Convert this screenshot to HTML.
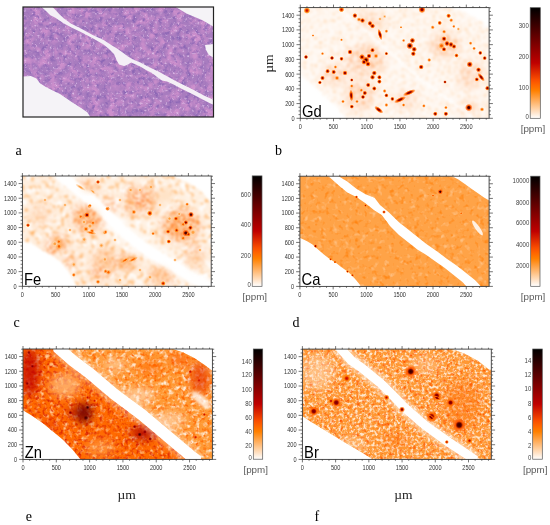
<!DOCTYPE html>
<html><head><meta charset="utf-8"><title>Figure</title>
<style>
html,body{margin:0;padding:0;background:#fff;}
body{width:550px;height:525px;overflow:hidden;}
svg{display:block;}
filter{color-interpolation-filters:sRGB;}
.tk{font-family:"Liberation Sans",sans-serif;font-size:6.9px;fill:#333;}
.cl{font-family:"Liberation Sans",sans-serif;font-size:6.4px;fill:#444;}
.ppm{font-family:"Liberation Sans",sans-serif;font-size:9.8px;fill:#5a5a5a;}
.el{font-family:"Liberation Sans",sans-serif;font-size:16.4px;fill:#000;}
.lt{font-family:"Liberation Serif",serif;font-size:14px;fill:#000;}
.um{font-family:"Liberation Serif",serif;font-size:13.5px;fill:#222;}
</style></head><body>
<svg width="550" height="525" viewBox="0 0 550 525">
<defs><linearGradient id="cb" x1="0" y1="0" x2="0" y2="1"><stop offset="0" stop-color="#000000"/><stop offset="0.05" stop-color="#130000"/><stop offset="0.1" stop-color="#260000"/><stop offset="0.15" stop-color="#390000"/><stop offset="0.2" stop-color="#4c0000"/><stop offset="0.25" stop-color="#600000"/><stop offset="0.3" stop-color="#730000"/><stop offset="0.35" stop-color="#860000"/><stop offset="0.4" stop-color="#990000"/><stop offset="0.45" stop-color="#ac0000"/><stop offset="0.5" stop-color="#bf0000"/><stop offset="0.55" stop-color="#d21a00"/><stop offset="0.6" stop-color="#e53300"/><stop offset="0.65" stop-color="#f94d00"/><stop offset="0.7" stop-color="#ff6600"/><stop offset="0.75" stop-color="#ff8000"/><stop offset="0.8" stop-color="#ff9933"/><stop offset="0.85" stop-color="#ffb266"/><stop offset="0.9" stop-color="#ffcc99"/><stop offset="0.95" stop-color="#ffe5cc"/><stop offset="1" stop-color="#ffffff"/></linearGradient>
<filter id="sblur" x="-10%" y="-10%" width="120%" height="120%"><feGaussianBlur stdDeviation="0.45"/></filter>
<radialGradient id="hz"><stop offset="0" stop-color="#ffa050" stop-opacity="0.45"/><stop offset="1" stop-color="#ffa050" stop-opacity="0"/></radialGradient>
<radialGradient id="g_vd"><stop offset="0" stop-color="#2e0000"/><stop offset="0.3" stop-color="#600000"/><stop offset="0.55" stop-color="#ff5700"/><stop offset="0.8" stop-color="#ff5700" stop-opacity="0.5"/><stop offset="1" stop-color="#ff5700" stop-opacity="0"/></radialGradient>
<radialGradient id="g_d"><stop offset="0" stop-color="#730000"/><stop offset="0.3" stop-color="#9b0000"/><stop offset="0.55" stop-color="#ff6600"/><stop offset="0.8" stop-color="#ff6600" stop-opacity="0.5"/><stop offset="1" stop-color="#ff6600" stop-opacity="0"/></radialGradient>
<radialGradient id="g_od"><stop offset="0" stop-color="#bf0000"/><stop offset="0.3" stop-color="#dc2600"/><stop offset="0.55" stop-color="#ff850a"/><stop offset="0.8" stop-color="#ff850a" stop-opacity="0.5"/><stop offset="1" stop-color="#ff850a" stop-opacity="0"/></radialGradient>
<radialGradient id="g_o"><stop offset="0" stop-color="#fc5200"/><stop offset="0.3" stop-color="#ff6c00"/><stop offset="0.55" stop-color="#ffad5c"/><stop offset="0.8" stop-color="#ffad5c" stop-opacity="0.5"/><stop offset="1" stop-color="#ffad5c" stop-opacity="0"/></radialGradient>
<radialGradient id="g_lo"><stop offset="0" stop-color="#ff9933"/><stop offset="0.3" stop-color="#ffa852"/><stop offset="0.55" stop-color="#ffd1a3"/><stop offset="0.8" stop-color="#ffd1a3" stop-opacity="0.5"/><stop offset="1" stop-color="#ffd1a3" stop-opacity="0"/></radialGradient>
<radialGradient id="n_vd"><stop offset="0" stop-color="#2e0000"/><stop offset="0.45" stop-color="#600000" stop-opacity="0.85"/><stop offset="1" stop-color="#820000" stop-opacity="0"/></radialGradient>
<radialGradient id="n_d"><stop offset="0" stop-color="#730000"/><stop offset="0.45" stop-color="#9b0000" stop-opacity="0.85"/><stop offset="1" stop-color="#b60000" stop-opacity="0"/></radialGradient>
<radialGradient id="n_od"><stop offset="0" stop-color="#bf0000"/><stop offset="0.45" stop-color="#dc2600" stop-opacity="0.85"/><stop offset="1" stop-color="#ef4000" stop-opacity="0"/></radialGradient>
<radialGradient id="n_o"><stop offset="0" stop-color="#fc5200"/><stop offset="0.45" stop-color="#ff6c00" stop-opacity="0.85"/><stop offset="1" stop-color="#ff7d00" stop-opacity="0"/></radialGradient>
<radialGradient id="n_lo"><stop offset="0" stop-color="#ff9933"/><stop offset="0.45" stop-color="#ffa852" stop-opacity="0.85"/><stop offset="1" stop-color="#ffb266" stop-opacity="0"/></radialGradient>
<filter id="b15" x="-50%" y="-50%" width="200%" height="200%"><feGaussianBlur stdDeviation="1.5"/></filter>
<filter id="hblur" x="-60%" y="-60%" width="220%" height="220%"><feGaussianBlur stdDeviation="3"/></filter>
<clipPath id="clip_b"><rect x="300.3" y="7.6" width="188.8" height="110.7"/></clipPath>
<clipPath id="tis_b"><polygon points="297.2,75.6 300.2,75.6 308.2,80.6 316.2,87.6 324.2,95.6 332.2,102.6 340.2,110.6 346.2,117.9 346.2,123.9 473.56,123.9 473.56,119.37 467.61,114.41 447.62,100.42 423.59,83.39 403.54,66.35 389.53,53.35 365.54,32.35 335.55,6.36 335.55,4.6 297.2,4.6"/><polygon points="336.85,4.6 336.85,4.84 366.86,30.85 390.87,51.85 404.86,64.85 424.81,81.81 448.78,98.78 468.79,112.79 474.84,117.83 474.84,123.9 495.2,123.9 495.2,28.6 489.2,28.6 478.2,19.6 465.2,12.6 451.2,7.6 451.2,4.6"/></clipPath>
<clipPath id="tl_b"><polygon points="297.2,75.6 300.2,75.6 308.2,80.6 316.2,87.6 324.2,95.6 332.2,102.6 340.2,110.6 346.2,117.9 346.2,123.9 473.56,123.9 473.56,119.37 467.61,114.41 447.62,100.42 423.59,83.39 403.54,66.35 389.53,53.35 365.54,32.35 335.55,6.36 335.55,4.6 297.2,4.6"/></clipPath>
<clipPath id="tu_b"><polygon points="336.85,4.6 336.85,4.84 366.86,30.85 390.87,51.85 404.86,64.85 424.81,81.81 448.78,98.78 468.79,112.79 474.84,117.83 474.84,123.9 495.2,123.9 495.2,28.6 489.2,28.6 478.2,19.6 465.2,12.6 451.2,7.6 451.2,4.6"/></clipPath>
<filter id="pb_b" x="292.2" y="-0.4" width="205" height="126.3" filterUnits="userSpaceOnUse"><feGaussianBlur stdDeviation="1.5"/></filter>
<filter id="tx_bl0" x="296.2" y="3.6" width="197" height="118.3" filterUnits="userSpaceOnUse"><feTurbulence type="fractalNoise" baseFrequency="0.45" numOctaves="2" seed="21"/><feColorMatrix type="matrix" values="0 0 0 0 1.000  0 0 0 0 0.678  0 0 0 0 0.361  4.2 0 0 0 -2.45"/><feGaussianBlur stdDeviation="0.25"/></filter>
<filter id="tx_bu0" x="296.2" y="3.6" width="197" height="118.3" filterUnits="userSpaceOnUse"><feTurbulence type="fractalNoise" baseFrequency="0.45" numOctaves="2" seed="23"/><feColorMatrix type="matrix" values="0 0 0 0 1.000  0 0 0 0 0.678  0 0 0 0 0.361  4.2 0 0 0 -2.45"/><feGaussianBlur stdDeviation="0.25"/></filter>
<mask id="mk_b" maskUnits="userSpaceOnUse" x="290.2" y="-2.4" width="209" height="130.3"><g filter="url(#rblur)"><ellipse cx="365" cy="60" rx="20" ry="15" fill="#fff" opacity="0.8"/><ellipse cx="445" cy="45" rx="15" ry="12" fill="#fff" opacity="0.8"/><ellipse cx="370" cy="20" rx="14" ry="8" fill="#fff" opacity="0.6"/><ellipse cx="360" cy="95" rx="15" ry="15" fill="#fff" opacity="0.7"/><ellipse cx="470" cy="75" rx="12" ry="14" fill="#fff" opacity="0.6"/><ellipse cx="405" cy="100" rx="12" ry="8" fill="#fff" opacity="0.6"/><ellipse cx="335" cy="75" rx="12" ry="10" fill="#fff" opacity="0.7"/><ellipse cx="470" cy="108" rx="12" ry="6" fill="#fff" opacity="0.5"/></g></mask>
<filter id="cl_b" x="296.2" y="3.6" width="197" height="118.3" filterUnits="userSpaceOnUse"><feTurbulence type="fractalNoise" baseFrequency="0.5" numOctaves="2" seed="32"/><feColorMatrix type="matrix" values="0 0 0 0 1.000  0 0 0 0 0.400  0 0 0 0 0.000  5.0 0 0 0 -2.4"/><feGaussianBlur stdDeviation="0.35"/></filter>
<clipPath id="clip_c"><rect x="22.4" y="176" width="188.8" height="110.3"/></clipPath>
<clipPath id="tis_c"><polygon points="19.4,240.4 22.4,240.4 32.4,243.8 42.7,250.7 53,256 61.7,262.8 68.6,271.5 73.8,280 77.3,286.4 77.3,292.4 211.75,292.4 211.75,294.92 201.66,289.37 188.93,281.79 174.56,272.81 159.6,264.14 141.21,253.08 120.72,236.39 105.01,220.59 81.33,198.99 55.47,178.4 55.47,173.1 19.4,173.1"/><polygon points="62.33,173.1 62.33,169.8 88.47,190.61 112.59,212.61 128.08,228.21 147.59,244.12 165.2,254.66 180.24,263.39 194.67,272.41 207.14,279.83 217.05,285.28 217.05,292.4 217.4,292.4 217.4,202.5 211.4,202.5 208.5,199 199.7,190 189,183 173.2,176.1 173.2,173.1"/></clipPath>
<clipPath id="tl_c"><polygon points="19.4,240.4 22.4,240.4 32.4,243.8 42.7,250.7 53,256 61.7,262.8 68.6,271.5 73.8,280 77.3,286.4 77.3,292.4 211.75,292.4 211.75,294.92 201.66,289.37 188.93,281.79 174.56,272.81 159.6,264.14 141.21,253.08 120.72,236.39 105.01,220.59 81.33,198.99 55.47,178.4 55.47,173.1 19.4,173.1"/></clipPath>
<clipPath id="tu_c"><polygon points="62.33,173.1 62.33,169.8 88.47,190.61 112.59,212.61 128.08,228.21 147.59,244.12 165.2,254.66 180.24,263.39 194.67,272.41 207.14,279.83 217.05,285.28 217.05,292.4 217.4,292.4 217.4,202.5 211.4,202.5 208.5,199 199.7,190 189,183 173.2,176.1 173.2,173.1"/></clipPath>
<filter id="pb_c" x="14.4" y="168.1" width="205" height="126.3" filterUnits="userSpaceOnUse"><feGaussianBlur stdDeviation="1.3"/></filter>
<filter id="tx_cl0" x="18.4" y="172.1" width="197" height="118.3" filterUnits="userSpaceOnUse"><feTurbulence type="fractalNoise" baseFrequency="0.15" numOctaves="2" seed="11"/><feColorMatrix type="matrix" values="0 0 0 0 1.000  0 0 0 0 1.000  0 0 0 0 1.000  3.2 0 0 0 -1.5"/><feGaussianBlur stdDeviation="0.4"/></filter>
<filter id="tx_cl1" x="18.4" y="172.1" width="197" height="118.3" filterUnits="userSpaceOnUse"><feTurbulence type="fractalNoise" baseFrequency="0.2" numOctaves="2" seed="5"/><feColorMatrix type="matrix" values="0 0 0 0 1.000  0 0 0 0 0.600  0 0 0 0 0.200  2.6 0 0 0 -1.4"/><feGaussianBlur stdDeviation="0.4"/></filter>
<filter id="tx_cu0" x="18.4" y="172.1" width="197" height="118.3" filterUnits="userSpaceOnUse"><feTurbulence type="fractalNoise" baseFrequency="0.15" numOctaves="2" seed="12"/><feColorMatrix type="matrix" values="0 0 0 0 1.000  0 0 0 0 1.000  0 0 0 0 1.000  3.2 0 0 0 -1.5"/><feGaussianBlur stdDeviation="0.4"/></filter>
<filter id="tx_cu1" x="18.4" y="172.1" width="197" height="118.3" filterUnits="userSpaceOnUse"><feTurbulence type="fractalNoise" baseFrequency="0.2" numOctaves="2" seed="6"/><feColorMatrix type="matrix" values="0 0 0 0 1.000  0 0 0 0 0.600  0 0 0 0 0.200  2.6 0 0 0 -1.4"/><feGaussianBlur stdDeviation="0.4"/></filter>
<filter id="hl_c" x="-20%" y="-20%" width="140%" height="140%"><feGaussianBlur stdDeviation="2.2"/></filter>
<mask id="mk_c" maskUnits="userSpaceOnUse" x="12.4" y="166.1" width="209" height="130.3"><g filter="url(#rblur)"><ellipse cx="88" cy="218" rx="14" ry="12" fill="#fff" opacity="1"/><ellipse cx="181" cy="226" rx="18" ry="15" fill="#fff" opacity="1"/><ellipse cx="131" cy="200" rx="4" ry="16" fill="#fff" opacity="0.8"/><ellipse cx="150.5" cy="200" rx="4" ry="14" fill="#fff" opacity="0.8"/><ellipse cx="126" cy="262" rx="11" ry="5" fill="#fff" opacity="0.9"/><ellipse cx="58" cy="243" rx="8" ry="7" fill="#fff" opacity="0.9"/><ellipse cx="104" cy="262" rx="10" ry="12" fill="#fff" opacity="0.6"/><ellipse cx="160" cy="275" rx="10" ry="8" fill="#fff" opacity="0.6"/><ellipse cx="88" cy="187" rx="11" ry="5" fill="#fff" opacity="0.7"/><ellipse cx="40" cy="215" rx="8" ry="8" fill="#fff" opacity="0.4"/><ellipse cx="195" cy="255" rx="8" ry="12" fill="#fff" opacity="0.5"/><ellipse cx="110" cy="205" rx="8" ry="8" fill="#fff" opacity="0.5"/><ellipse cx="100" cy="273" rx="9" ry="5" fill="#fff" opacity="0.8"/><ellipse cx="142" cy="200" rx="10" ry="12" fill="#fff" opacity="0.7"/><ellipse cx="70" cy="262" rx="6" ry="6" fill="#fff" opacity="0.6"/><ellipse cx="165" cy="280" rx="8" ry="5" fill="#fff" opacity="0.6"/><ellipse cx="50" cy="250" rx="6" ry="6" fill="#fff" opacity="0.6"/></g></mask>
<filter id="cl_c" x="18.4" y="172.1" width="197" height="118.3" filterUnits="userSpaceOnUse"><feTurbulence type="fractalNoise" baseFrequency="0.42" numOctaves="2" seed="31"/><feColorMatrix type="matrix" values="0 0 0 0 1.000  0 0 0 0 0.361  0 0 0 0 0.000  5.0 0 0 0 -2.2"/><feGaussianBlur stdDeviation="0.35"/></filter>
<clipPath id="clip_d"><rect x="299.9" y="176.2" width="189.2" height="110.2"/></clipPath>
<clipPath id="tis_d"><polygon points="297.2,238.1 300.2,238.1 306.7,241.1 312.5,244.6 318.4,249.7 324.2,254.8 330,259.2 335.8,262.8 341.6,267.2 347.5,271.5 351.8,275.2 356.2,280.3 360.5,285.4 361.2,286.4 361.2,292.4 466.4,292.4 466.4,286.4 462.7,282.3 453.6,275 444.5,267.7 435.5,261.4 426.4,255 417.3,249.5 408.2,242.3 399,235 390,225.9 381.8,215 374.5,210.5 365.5,203.3 356.4,196.9 347.3,192.4 338.2,185.1 328.2,176.1 328.2,173.1 297.2,173.1"/><polygon points="338.2,173.1 338.2,176.1 347.3,181.5 356.4,188.7 365.5,194.2 374.5,197.8 380,205 389,212.4 399,222.3 408.2,229.5 417.3,236.8 426.4,244 437.3,251.4 446.4,258.6 457.3,266 466.4,273.2 475.5,280.5 481,286.4 481,292.4 495.2,292.4 495.2,200.6 489.2,200.6 484,197.6 477.6,193 471,188.4 464.5,183.8 458,179.2 451.4,176.1 451.4,173.1"/></clipPath>
<clipPath id="tl_d"><polygon points="297.2,238.1 300.2,238.1 306.7,241.1 312.5,244.6 318.4,249.7 324.2,254.8 330,259.2 335.8,262.8 341.6,267.2 347.5,271.5 351.8,275.2 356.2,280.3 360.5,285.4 361.2,286.4 361.2,292.4 466.4,292.4 466.4,286.4 462.7,282.3 453.6,275 444.5,267.7 435.5,261.4 426.4,255 417.3,249.5 408.2,242.3 399,235 390,225.9 381.8,215 374.5,210.5 365.5,203.3 356.4,196.9 347.3,192.4 338.2,185.1 328.2,176.1 328.2,173.1 297.2,173.1"/></clipPath>
<clipPath id="tu_d"><polygon points="338.2,173.1 338.2,176.1 347.3,181.5 356.4,188.7 365.5,194.2 374.5,197.8 380,205 389,212.4 399,222.3 408.2,229.5 417.3,236.8 426.4,244 437.3,251.4 446.4,258.6 457.3,266 466.4,273.2 475.5,280.5 481,286.4 481,292.4 495.2,292.4 495.2,200.6 489.2,200.6 484,197.6 477.6,193 471,188.4 464.5,183.8 458,179.2 451.4,176.1 451.4,173.1"/></clipPath>
<filter id="pb_d" x="292.2" y="168.1" width="205" height="126.3" filterUnits="userSpaceOnUse"><feGaussianBlur stdDeviation="0.5"/></filter>
<filter id="tx_dl0" x="296.2" y="172.1" width="197" height="118.3" filterUnits="userSpaceOnUse"><feTurbulence type="fractalNoise" baseFrequency="0.18" numOctaves="2" seed="12"/><feColorMatrix type="matrix" values="0 0 0 0 1.000  0 0 0 0 0.800  0 0 0 0 0.600  2.4 0 0 0 -1.35"/><feGaussianBlur stdDeviation="0.5"/></filter>
<filter id="tx_dl1" x="296.2" y="172.1" width="197" height="118.3" filterUnits="userSpaceOnUse"><feTurbulence type="fractalNoise" baseFrequency="0.2" numOctaves="2" seed="6"/><feColorMatrix type="matrix" values="0 0 0 0 1.000  0 0 0 0 0.478  0 0 0 0 0.000  2.4 0 0 0 -1.35"/><feGaussianBlur stdDeviation="0.4"/></filter>
<filter id="tx_du0" x="296.2" y="172.1" width="197" height="118.3" filterUnits="userSpaceOnUse"><feTurbulence type="fractalNoise" baseFrequency="0.18" numOctaves="2" seed="13"/><feColorMatrix type="matrix" values="0 0 0 0 1.000  0 0 0 0 0.800  0 0 0 0 0.600  2.4 0 0 0 -1.35"/><feGaussianBlur stdDeviation="0.5"/></filter>
<filter id="tx_du1" x="296.2" y="172.1" width="197" height="118.3" filterUnits="userSpaceOnUse"><feTurbulence type="fractalNoise" baseFrequency="0.2" numOctaves="2" seed="7"/><feColorMatrix type="matrix" values="0 0 0 0 1.000  0 0 0 0 0.478  0 0 0 0 0.000  2.4 0 0 0 -1.35"/><feGaussianBlur stdDeviation="0.4"/></filter>
<clipPath id="clip_e"><rect x="23" y="349" width="189.4" height="110.4"/></clipPath>
<clipPath id="tis_e"><polygon points="19.6,410 22.6,410 32.4,416 42.7,423 53,431.6 63.5,440.3 72,449 79,457.5 80.6,459.3 80.6,465.3 194.17,465.3 194.17,465.68 187.91,461.08 163.16,440.14 138.51,419.45 110.5,398.55 85.96,377.81 68.95,365.01 53.29,351.37 53.29,346 19.6,346"/><polygon points="60.91,346 60.91,342.63 76.25,355.99 93.24,368.79 117.7,389.45 145.69,410.35 170.64,431.26 195.29,452.12 201.03,456.32 201.03,465.3 217.6,465.3 217.6,370.5 211.6,370.5 211.2,370 204.3,364.7 193.8,357.7 183.3,352.5 172.8,349 172.8,346"/></clipPath>
<clipPath id="tl_e"><polygon points="19.6,410 22.6,410 32.4,416 42.7,423 53,431.6 63.5,440.3 72,449 79,457.5 80.6,459.3 80.6,465.3 194.17,465.3 194.17,465.68 187.91,461.08 163.16,440.14 138.51,419.45 110.5,398.55 85.96,377.81 68.95,365.01 53.29,351.37 53.29,346 19.6,346"/></clipPath>
<clipPath id="tu_e"><polygon points="60.91,346 60.91,342.63 76.25,355.99 93.24,368.79 117.7,389.45 145.69,410.35 170.64,431.26 195.29,452.12 201.03,456.32 201.03,465.3 217.6,465.3 217.6,370.5 211.6,370.5 211.2,370 204.3,364.7 193.8,357.7 183.3,352.5 172.8,349 172.8,346"/></clipPath>
<filter id="pb_e" x="14.6" y="341" width="205" height="126.3" filterUnits="userSpaceOnUse"><feGaussianBlur stdDeviation="0.6"/></filter>
<filter id="tx_el0" x="18.6" y="345" width="197" height="118.3" filterUnits="userSpaceOnUse"><feTurbulence type="fractalNoise" baseFrequency="0.22" numOctaves="2" seed="13"/><feColorMatrix type="matrix" values="0 0 0 0 1.000  0 0 0 0 0.800  0 0 0 0 0.600  3.0 0 0 0 -1.5"/><feGaussianBlur stdDeviation="0.5"/></filter>
<filter id="tx_el1" x="18.6" y="345" width="197" height="118.3" filterUnits="userSpaceOnUse"><feTurbulence type="fractalNoise" baseFrequency="0.28" numOctaves="2" seed="7"/><feColorMatrix type="matrix" values="0 0 0 0 0.871  0 0 0 0 0.161  0 0 0 0 0.000  3.2 0 0 0 -1.55"/><feGaussianBlur stdDeviation="0.5"/></filter>
<filter id="tx_eu0" x="18.6" y="345" width="197" height="118.3" filterUnits="userSpaceOnUse"><feTurbulence type="fractalNoise" baseFrequency="0.22" numOctaves="2" seed="14"/><feColorMatrix type="matrix" values="0 0 0 0 1.000  0 0 0 0 0.922  0 0 0 0 0.839  3.2 0 0 0 -1.5"/><feGaussianBlur stdDeviation="0.5"/></filter>
<filter id="tx_eu1" x="18.6" y="345" width="197" height="118.3" filterUnits="userSpaceOnUse"><feTurbulence type="fractalNoise" baseFrequency="0.28" numOctaves="2" seed="8"/><feColorMatrix type="matrix" values="0 0 0 0 1.000  0 0 0 0 0.400  0 0 0 0 0.000  3.2 0 0 0 -1.6"/><feGaussianBlur stdDeviation="0.5"/></filter>
<filter id="hl_e" x="-20%" y="-20%" width="140%" height="140%"><feGaussianBlur stdDeviation="2.0"/></filter>
<clipPath id="clip_f"><rect x="302.4" y="349.1" width="188.9" height="110.3"/></clipPath>
<clipPath id="tis_f"><polygon points="297.2,414.7 300.2,414.7 313.8,423.4 327.7,432 345,442.4 362.3,452.8 372.6,459.3 372.6,465.3 472.56,465.3 472.56,463.77 466.95,459.83 446.19,446.19 421.76,428.62 400.68,410.38 392.19,401.29 384.06,393.16 377.64,386.83 369.68,380.35 359.9,372.25 348.19,363.89 335.77,350.07 335.77,346 297.2,346"/><polygon points="342.63,346 342.63,343.93 354.41,357.11 365.5,364.95 375.52,373.25 383.76,379.97 390.54,386.64 398.81,394.91 406.92,403.62 427.44,421.38 451.41,438.61 472.05,452.17 477.84,456.23 477.84,465.3 495.2,465.3 495.2,369.8 489.2,369.8 478.2,361 465.2,354 452,349 452,346"/></clipPath>
<clipPath id="tl_f"><polygon points="297.2,414.7 300.2,414.7 313.8,423.4 327.7,432 345,442.4 362.3,452.8 372.6,459.3 372.6,465.3 472.56,465.3 472.56,463.77 466.95,459.83 446.19,446.19 421.76,428.62 400.68,410.38 392.19,401.29 384.06,393.16 377.64,386.83 369.68,380.35 359.9,372.25 348.19,363.89 335.77,350.07 335.77,346 297.2,346"/></clipPath>
<clipPath id="tu_f"><polygon points="342.63,346 342.63,343.93 354.41,357.11 365.5,364.95 375.52,373.25 383.76,379.97 390.54,386.64 398.81,394.91 406.92,403.62 427.44,421.38 451.41,438.61 472.05,452.17 477.84,456.23 477.84,465.3 495.2,465.3 495.2,369.8 489.2,369.8 478.2,361 465.2,354 452,349 452,346"/></clipPath>
<filter id="pb_f" x="292.2" y="341" width="205" height="126.3" filterUnits="userSpaceOnUse"><feGaussianBlur stdDeviation="0.6"/></filter>
<filter id="tx_fl0" x="296.2" y="345" width="197" height="118.3" filterUnits="userSpaceOnUse"><feTurbulence type="fractalNoise" baseFrequency="0.36" numOctaves="2" seed="14"/><feColorMatrix type="matrix" values="0 0 0 0 1.000  0 0 0 0 0.900  0 0 0 0 0.800  3.4 0 0 0 -1.45"/><feGaussianBlur stdDeviation="0.35"/></filter>
<filter id="tx_fl1" x="296.2" y="345" width="197" height="118.3" filterUnits="userSpaceOnUse"><feTurbulence type="fractalNoise" baseFrequency="0.3" numOctaves="2" seed="8"/><feColorMatrix type="matrix" values="0 0 0 0 1.000  0 0 0 0 0.341  0 0 0 0 0.000  3.0 0 0 0 -1.6"/><feGaussianBlur stdDeviation="0.35"/></filter>
<filter id="tx_fu0" x="296.2" y="345" width="197" height="118.3" filterUnits="userSpaceOnUse"><feTurbulence type="fractalNoise" baseFrequency="0.36" numOctaves="2" seed="15"/><feColorMatrix type="matrix" values="0 0 0 0 1.000  0 0 0 0 0.900  0 0 0 0 0.800  3.4 0 0 0 -1.45"/><feGaussianBlur stdDeviation="0.35"/></filter>
<filter id="tx_fu1" x="296.2" y="345" width="197" height="118.3" filterUnits="userSpaceOnUse"><feTurbulence type="fractalNoise" baseFrequency="0.3" numOctaves="2" seed="9"/><feColorMatrix type="matrix" values="0 0 0 0 1.000  0 0 0 0 0.341  0 0 0 0 0.000  3.0 0 0 0 -1.6"/><feGaussianBlur stdDeviation="0.35"/></filter>
<filter id="hl_f" x="-20%" y="-20%" width="140%" height="140%"><feGaussianBlur stdDeviation="1.8"/></filter>
<filter id="rblur" x="-50%" y="-50%" width="200%" height="200%"><feGaussianBlur stdDeviation="4"/></filter>
<clipPath id="clip_a"><rect x="23" y="7" width="190.5" height="110"/></clipPath>
<filter id="ta1" x="23" y="7" width="191" height="110" filterUnits="userSpaceOnUse"><feTurbulence type="fractalNoise" baseFrequency="0.22" numOctaves="3" seed="7"/><feColorMatrix type="matrix" values="0 0 0 0 0.52  0 0 0 0 0.38  0 0 0 0 0.70  2.6 0 0 0 -1.3"/></filter><filter id="ta2" x="23" y="7" width="191" height="110" filterUnits="userSpaceOnUse"><feTurbulence type="fractalNoise" baseFrequency="0.4" numOctaves="2" seed="21"/><feColorMatrix type="matrix" values="0 0 0 0 0.9  0 0 0 0 0.8  0 0 0 0 0.94  0 3 0 0 -1.8"/><feGaussianBlur stdDeviation="0.35"/></filter><filter id="ta3" x="23" y="7" width="191" height="110" filterUnits="userSpaceOnUse"><feTurbulence type="fractalNoise" baseFrequency="0.12" numOctaves="2" seed="3"/><feColorMatrix type="matrix" values="0 0 0 0 0.8  0 0 0 0 0.56  0 0 0 0 0.8  0 0 3.0 0 -1.15"/></filter></defs>
<rect width="550" height="525" fill="#fff"/>

<g clip-path="url(#clip_a)">
<rect x="23" y="7" width="190.5" height="110" fill="#a87cbf"/>
<rect x="23" y="7" width="190.5" height="110" filter="url(#ta3)"/>
<rect x="23" y="7" width="190.5" height="110" filter="url(#ta1)"/>
<rect x="23" y="7" width="190.5" height="110" filter="url(#ta2)"/>
<polygon points="52,6.5 55,9.5 59.4,14.3 64,18.5 70.9,23.4 81.8,29 92.7,35 103.6,40 112,45.5 117,48.5 122,52 128,56.5 133,59.5 140.3,62.5 149.4,67.3 158.5,71.5 167.5,76.5 176.6,81.5 185.7,86 194.8,90.5 203.9,95.5 214,100 214,105 209.4,103 200.3,98.3 191.2,93.5 182,89 173,84.2 167,81.5 162,80.5 157,77 152,73 146,70 140.3,66.5 131.2,62.5 128,64.5 124,66 119,64.5 116.5,60 114,54 108.5,48.5 103.6,44.4 92.7,38.2 81.8,32.6 70.9,27.2 64,23.5 59.4,20.6 55,17.5 50.3,15.2 46,11 41,6.5" fill="#f4eff6"/>
<polygon points="23,76.5 30.9,75.9 36.4,78.6 40,83.2 45.5,86.8 52.7,90.5 60,94 65.5,97.7 70.9,101.4 76.4,105 81.8,108.6 87.3,112.3 91,118 23,118" fill="#f5f3f7"/>
<polygon points="174,6 187,13.8 202.5,20.3 214,27 214,6" fill="#f5f3f7"/>
<polygon points="205,45 214,44 214,58 209,55 206,50" fill="#f5f3f7"/>
</g>
<rect x="23" y="7" width="190.5" height="110" fill="none" stroke="#222" stroke-width="1.2"/>
<g clip-path="url(#clip_b)">
<rect x="300.3" y="7.6" width="188.8" height="110.7" fill="#fff"/>
<g filter="url(#pb_b)">
<polygon points="297.2,75.6 300.2,75.6 308.2,80.6 316.2,87.6 324.2,95.6 332.2,102.6 340.2,110.6 346.2,117.9 346.2,123.9 473.56,123.9 473.56,119.37 467.61,114.41 447.62,100.42 423.59,83.39 403.54,66.35 389.53,53.35 365.54,32.35 335.55,6.36 335.55,4.6 297.2,4.6" fill="#fffaf6"/>
<polygon points="336.85,4.6 336.85,4.84 366.86,30.85 390.87,51.85 404.86,64.85 424.81,81.81 448.78,98.78 468.79,112.79 474.84,117.83 474.84,123.9 495.2,123.9 495.2,28.6 489.2,28.6 478.2,19.6 465.2,12.6 451.2,7.6 451.2,4.6" fill="#fffaf6"/>
<rect x="296.2" y="3.6" width="197" height="118.3" filter="url(#tx_bl0)" clip-path="url(#tl_b)"/>
<rect x="296.2" y="3.6" width="197" height="118.3" filter="url(#tx_bu0)" clip-path="url(#tu_b)"/>
<g mask="url(#mk_b)"><rect x="296.2" y="3.6" width="197" height="118.3" filter="url(#cl_b)" clip-path="url(#tis_b)"/></g>
</g>
<g filter="url(#sblur)"><circle cx="306.9" cy="10.5" r="3.37" fill="url(#g_od)"/><circle cx="341.5" cy="9.6" r="2.81" fill="url(#g_od)"/><circle cx="354.9" cy="15.6" r="2.57" fill="url(#g_d)"/><circle cx="359" cy="19.5" r="2.24" fill="url(#g_o)"/><circle cx="362.5" cy="20.5" r="2.57" fill="url(#g_d)"/><circle cx="370" cy="23.4" r="2.57" fill="url(#g_d)"/><circle cx="372.5" cy="26" r="2.57" fill="url(#g_d)"/><ellipse cx="0" cy="0" rx="5.94" ry="2.02" fill="url(#g_d)" transform="translate(380,34.5) rotate(74.05)"/><circle cx="386.4" cy="31.2" r="1.87" fill="url(#g_o)"/><circle cx="380" cy="19" r="1.87" fill="url(#g_lo)"/><circle cx="384.6" cy="16.5" r="1.87" fill="url(#g_lo)"/><circle cx="313" cy="35.5" r="1.31" fill="url(#g_o)"/><circle cx="341.5" cy="39.8" r="1.5" fill="url(#g_o)"/><circle cx="306" cy="57" r="2.18" fill="url(#g_d)"/><circle cx="332" cy="58" r="2.18" fill="url(#g_d)"/><circle cx="341.5" cy="58.8" r="2.18" fill="url(#g_d)"/><circle cx="350" cy="52" r="2.57" fill="url(#g_d)"/><circle cx="362" cy="57" r="2.97" fill="url(#g_d)"/><circle cx="366" cy="60" r="3.52" fill="url(#g_vd)"/><circle cx="369" cy="56" r="2.57" fill="url(#g_d)"/><circle cx="364" cy="62" r="2.77" fill="url(#g_d)"/><circle cx="372.5" cy="50.2" r="2.38" fill="url(#g_d)"/><circle cx="376" cy="56" r="2.43" fill="url(#g_o)"/><circle cx="386.4" cy="53.6" r="1.78" fill="url(#g_d)"/><circle cx="322.5" cy="53.6" r="1.68" fill="url(#g_o)"/><circle cx="368" cy="64" r="2.77" fill="url(#g_d)"/><circle cx="327.6" cy="71.2" r="2.38" fill="url(#g_d)"/><circle cx="333.7" cy="72" r="2.38" fill="url(#g_d)"/><circle cx="322.5" cy="78" r="2.38" fill="url(#g_d)"/><circle cx="319.9" cy="82.5" r="1.98" fill="url(#g_d)"/><circle cx="337" cy="78" r="2.43" fill="url(#g_o)"/><circle cx="345" cy="73" r="2.57" fill="url(#g_d)"/><circle cx="335.4" cy="67" r="1.87" fill="url(#g_o)"/><circle cx="374.3" cy="73" r="2.57" fill="url(#g_d)"/><circle cx="372.5" cy="77.3" r="2.57" fill="url(#g_d)"/><circle cx="379.4" cy="77.3" r="2.38" fill="url(#g_d)"/><circle cx="379.4" cy="81.6" r="2.38" fill="url(#g_d)"/><circle cx="368.2" cy="85" r="2.38" fill="url(#g_d)"/><circle cx="351.8" cy="80" r="1.78" fill="url(#g_d)"/><circle cx="351.8" cy="86" r="1.87" fill="url(#g_o)"/><ellipse cx="0" cy="0" rx="5.96" ry="2.14" fill="url(#g_d)" transform="translate(351.25,95.5) rotate(85.91)"/><circle cx="361.3" cy="90.2" r="1.87" fill="url(#g_o)"/><circle cx="364.8" cy="93" r="2.38" fill="url(#g_d)"/><circle cx="363" cy="97" r="2.18" fill="url(#g_d)"/><circle cx="374.3" cy="88.5" r="2.38" fill="url(#g_d)"/><circle cx="384.6" cy="91" r="2.06" fill="url(#g_o)"/><circle cx="386.4" cy="95.4" r="2.18" fill="url(#g_d)"/><ellipse cx="0" cy="0" rx="5.44" ry="2.27" fill="url(#g_d)" transform="translate(378.75,109.75) rotate(37.87)"/><circle cx="386.4" cy="105" r="2.06" fill="url(#g_o)"/><circle cx="392.4" cy="98.9" r="2.18" fill="url(#g_d)"/><circle cx="351.8" cy="106.6" r="2.18" fill="url(#g_d)"/><circle cx="357" cy="101.5" r="1.87" fill="url(#g_o)"/><circle cx="343" cy="101.5" r="1.87" fill="url(#g_o)"/><circle cx="422" cy="9.6" r="3.56" fill="url(#g_d)"/><circle cx="448.6" cy="15.8" r="2.43" fill="url(#g_od)"/><circle cx="451.2" cy="20.2" r="2.06" fill="url(#g_o)"/><circle cx="439.7" cy="22.9" r="2.24" fill="url(#g_od)"/><circle cx="432.7" cy="27.3" r="2.06" fill="url(#g_o)"/><circle cx="453.8" cy="26.4" r="1.68" fill="url(#g_o)"/><circle cx="458.3" cy="29" r="1.87" fill="url(#g_lo)"/><circle cx="444.1" cy="31.7" r="2.06" fill="url(#g_o)"/><circle cx="444.1" cy="38.7" r="2.57" fill="url(#g_d)"/><circle cx="412.4" cy="40.5" r="2.77" fill="url(#g_d)"/><circle cx="409.8" cy="45.8" r="3.52" fill="url(#g_vd)"/><circle cx="414.2" cy="49.3" r="2.77" fill="url(#g_d)"/><circle cx="413.3" cy="53.7" r="2.57" fill="url(#g_d)"/><circle cx="441.5" cy="45.8" r="3.37" fill="url(#g_o)"/><circle cx="447" cy="43.5" r="2.77" fill="url(#g_d)"/><circle cx="451" cy="44.5" r="2.77" fill="url(#g_d)"/><circle cx="454" cy="46.5" r="2.38" fill="url(#g_d)"/><circle cx="444" cy="49.3" r="2.38" fill="url(#g_d)"/><circle cx="456.5" cy="55.5" r="2.24" fill="url(#g_od)"/><circle cx="470.6" cy="43.2" r="1.87" fill="url(#g_o)"/><circle cx="474.1" cy="48.4" r="1.87" fill="url(#g_o)"/><circle cx="480.3" cy="52.9" r="2.18" fill="url(#g_d)"/><circle cx="484.7" cy="58.1" r="2.18" fill="url(#g_d)"/><circle cx="429.2" cy="60" r="2.06" fill="url(#g_o)"/><circle cx="401" cy="27.3" r="1.31" fill="url(#g_o)"/><circle cx="403.6" cy="40.5" r="1.68" fill="url(#g_o)"/><circle cx="421.2" cy="67" r="2.57" fill="url(#g_d)"/><circle cx="469.7" cy="64.4" r="3.17" fill="url(#g_d)"/><circle cx="478.5" cy="69.7" r="2.57" fill="url(#g_d)"/><ellipse cx="0" cy="0" rx="5.15" ry="2.02" fill="url(#g_d)" transform="translate(481.2,77.2) rotate(50.71)"/><circle cx="476.8" cy="79.4" r="2.18" fill="url(#g_d)"/><circle cx="487.4" cy="88.2" r="2.38" fill="url(#g_d)"/><circle cx="445" cy="82" r="1.78" fill="url(#g_d)"/><ellipse cx="0" cy="0" rx="6.96" ry="2.27" fill="url(#g_d)" transform="translate(409.3,92.65) rotate(-23.63)"/><ellipse cx="0" cy="0" rx="6.53" ry="2.27" fill="url(#g_d)" transform="translate(400.05,99.7) rotate(-25.59)"/><circle cx="423.9" cy="105.9" r="1.87" fill="url(#g_o)"/><circle cx="435.3" cy="113.8" r="2.38" fill="url(#g_d)"/><circle cx="445.9" cy="113.8" r="2.38" fill="url(#g_d)"/><circle cx="445.9" cy="107.6" r="1.87" fill="url(#g_o)"/><circle cx="468.8" cy="107.6" r="3.74" fill="url(#g_vd)"/><circle cx="482" cy="109.4" r="2.24" fill="url(#g_o)"/><circle cx="403.6" cy="105" r="1.87" fill="url(#g_o)"/></g>
</g>
<rect x="300.3" y="7.6" width="188.8" height="110.7" fill="none" stroke="#3a3a3a" stroke-width="0.9"/>
<path d="M296.5 118.3h3.8M489.1 118.3h3.8M298.5 114.62h1.8M489.1 114.62h1.8M298.5 110.93h1.8M489.1 110.93h1.8M298.5 107.25h1.8M489.1 107.25h1.8M296.5 103.57h3.8M489.1 103.57h3.8M298.5 99.89h1.8M489.1 99.89h1.8M298.5 96.2h1.8M489.1 96.2h1.8M298.5 92.52h1.8M489.1 92.52h1.8M296.5 88.84h3.8M489.1 88.84h3.8M298.5 85.16h1.8M489.1 85.16h1.8M298.5 81.47h1.8M489.1 81.47h1.8M298.5 77.79h1.8M489.1 77.79h1.8M296.5 74.11h3.8M489.1 74.11h3.8M298.5 70.43h1.8M489.1 70.43h1.8M298.5 66.74h1.8M489.1 66.74h1.8M298.5 63.06h1.8M489.1 63.06h1.8M296.5 59.38h3.8M489.1 59.38h3.8M298.5 55.7h1.8M489.1 55.7h1.8M298.5 52.01h1.8M489.1 52.01h1.8M298.5 48.33h1.8M489.1 48.33h1.8M296.5 44.65h3.8M489.1 44.65h3.8M298.5 40.96h1.8M489.1 40.96h1.8M298.5 37.28h1.8M489.1 37.28h1.8M298.5 33.6h1.8M489.1 33.6h1.8M296.5 29.92h3.8M489.1 29.92h3.8M298.5 26.23h1.8M489.1 26.23h1.8M298.5 22.55h1.8M489.1 22.55h1.8M298.5 18.87h1.8M489.1 18.87h1.8M296.5 15.19h3.8M489.1 15.19h3.8M298.5 11.5h1.8M489.1 11.5h1.8M298.5 7.82h1.8M489.1 7.82h1.8M300.3 118.3v3M300.3 4.6v3M306.94 118.3v1.4M306.94 6.2v1.4M313.58 118.3v1.4M313.58 6.2v1.4M320.22 118.3v1.4M320.22 6.2v1.4M326.86 118.3v1.4M326.86 6.2v1.4M333.5 118.3v3M333.5 4.6v3M340.15 118.3v1.4M340.15 6.2v1.4M346.79 118.3v1.4M346.79 6.2v1.4M353.43 118.3v1.4M353.43 6.2v1.4M360.07 118.3v1.4M360.07 6.2v1.4M366.71 118.3v3M366.71 4.6v3M373.35 118.3v1.4M373.35 6.2v1.4M379.99 118.3v1.4M379.99 6.2v1.4M386.63 118.3v1.4M386.63 6.2v1.4M393.27 118.3v1.4M393.27 6.2v1.4M399.91 118.3v3M399.91 4.6v3M406.55 118.3v1.4M406.55 6.2v1.4M413.19 118.3v1.4M413.19 6.2v1.4M419.84 118.3v1.4M419.84 6.2v1.4M426.48 118.3v1.4M426.48 6.2v1.4M433.12 118.3v3M433.12 4.6v3M439.76 118.3v1.4M439.76 6.2v1.4M446.4 118.3v1.4M446.4 6.2v1.4M453.04 118.3v1.4M453.04 6.2v1.4M459.68 118.3v1.4M459.68 6.2v1.4M466.32 118.3v3M466.32 4.6v3M472.96 118.3v1.4M472.96 6.2v1.4M479.6 118.3v1.4M479.6 6.2v1.4M486.24 118.3v1.4M486.24 6.2v1.4" stroke="#3a3a3a" stroke-width="0.7" fill="none"/>
<text x="294.5" y="120.7" text-anchor="end" class="tk" textLength="3.12" lengthAdjust="spacingAndGlyphs">0</text>
<text x="294.5" y="105.97" text-anchor="end" class="tk" textLength="9.36" lengthAdjust="spacingAndGlyphs">200</text>
<text x="294.5" y="91.24" text-anchor="end" class="tk" textLength="9.36" lengthAdjust="spacingAndGlyphs">400</text>
<text x="294.5" y="76.51" text-anchor="end" class="tk" textLength="9.36" lengthAdjust="spacingAndGlyphs">600</text>
<text x="294.5" y="61.78" text-anchor="end" class="tk" textLength="9.36" lengthAdjust="spacingAndGlyphs">800</text>
<text x="294.5" y="47.05" text-anchor="end" class="tk" textLength="12.48" lengthAdjust="spacingAndGlyphs">1000</text>
<text x="294.5" y="32.32" text-anchor="end" class="tk" textLength="12.48" lengthAdjust="spacingAndGlyphs">1200</text>
<text x="294.5" y="17.59" text-anchor="end" class="tk" textLength="12.48" lengthAdjust="spacingAndGlyphs">1400</text>
<text x="300.3" y="128.9" text-anchor="middle" class="tk" textLength="3.12" lengthAdjust="spacingAndGlyphs">0</text>
<text x="333.5" y="128.9" text-anchor="middle" class="tk" textLength="9.36" lengthAdjust="spacingAndGlyphs">500</text>
<text x="366.71" y="128.9" text-anchor="middle" class="tk" textLength="12.48" lengthAdjust="spacingAndGlyphs">1000</text>
<text x="399.91" y="128.9" text-anchor="middle" class="tk" textLength="12.48" lengthAdjust="spacingAndGlyphs">1500</text>
<text x="433.12" y="128.9" text-anchor="middle" class="tk" textLength="12.48" lengthAdjust="spacingAndGlyphs">2000</text>
<text x="466.32" y="128.9" text-anchor="middle" class="tk" textLength="12.48" lengthAdjust="spacingAndGlyphs">2500</text>
<rect x="530.2" y="7.7" width="10.1" height="110.6" fill="url(#cb)" stroke="#555" stroke-width="0.7"/>
<text x="528.8" y="118.9" text-anchor="end" class="cl" textLength="3.35" lengthAdjust="spacingAndGlyphs">0</text>
<text x="528.8" y="89.8" text-anchor="end" class="cl" textLength="10.05" lengthAdjust="spacingAndGlyphs">100</text>
<text x="528.8" y="58.8" text-anchor="end" class="cl" textLength="10.05" lengthAdjust="spacingAndGlyphs">200</text>
<text x="528.8" y="27.6" text-anchor="end" class="cl" textLength="10.05" lengthAdjust="spacingAndGlyphs">300</text>
<text x="532.95" y="131.9" text-anchor="middle" class="ppm">[ppm]</text>
<g clip-path="url(#clip_c)">
<rect x="22.4" y="176" width="188.8" height="110.3" fill="#fff"/>
<g filter="url(#pb_c)">
<polygon points="19.4,240.4 22.4,240.4 32.4,243.8 42.7,250.7 53,256 61.7,262.8 68.6,271.5 73.8,280 77.3,286.4 77.3,292.4 211.75,292.4 211.75,294.92 201.66,289.37 188.93,281.79 174.56,272.81 159.6,264.14 141.21,253.08 120.72,236.39 105.01,220.59 81.33,198.99 55.47,178.4 55.47,173.1 19.4,173.1" fill="#ffeddb"/>
<polygon points="62.33,173.1 62.33,169.8 88.47,190.61 112.59,212.61 128.08,228.21 147.59,244.12 165.2,254.66 180.24,263.39 194.67,272.41 207.14,279.83 217.05,285.28 217.05,292.4 217.4,292.4 217.4,202.5 211.4,202.5 208.5,199 199.7,190 189,183 173.2,176.1 173.2,173.1" fill="#fff0e0"/>
<rect x="18.4" y="172.1" width="197" height="118.3" filter="url(#tx_cl0)" clip-path="url(#tl_c)"/>
<rect x="18.4" y="172.1" width="197" height="118.3" filter="url(#tx_cl1)" clip-path="url(#tl_c)"/>
<rect x="18.4" y="172.1" width="197" height="118.3" filter="url(#tx_cu0)" clip-path="url(#tu_c)"/>
<rect x="18.4" y="172.1" width="197" height="118.3" filter="url(#tx_cu1)" clip-path="url(#tu_c)"/>
<polyline points="58.9,174.1 84.9,194.8 108.8,216.6 124.4,232.3 144.4,248.6 162.4,259.4 177.4,268.1 191.8,277.1 204.4,284.6 214.4,290.1" fill="none" stroke="#fff" stroke-width="20" stroke-linejoin="round" opacity="0.55" filter="url(#hl_c)"/>
<g mask="url(#mk_c)"><rect x="18.4" y="172.1" width="197" height="118.3" filter="url(#cl_c)" clip-path="url(#tis_c)"/></g>
</g>
<g filter="url(#sblur)"><ellipse cx="88" cy="218" rx="12" ry="11" fill="#ffb870" opacity="0.4" filter="url(#hblur)"/><ellipse cx="180" cy="226" rx="16" ry="14" fill="#ffb870" opacity="0.4" filter="url(#hblur)"/><ellipse cx="131" cy="200" rx="3" ry="14" fill="#ffc285" opacity="0.5" filter="url(#hblur)"/><ellipse cx="150.5" cy="200" rx="3" ry="13" fill="#ffc285" opacity="0.5" filter="url(#hblur)"/><ellipse cx="126" cy="262" rx="9" ry="4" fill="#ffa347" opacity="0.6" filter="url(#hblur)"/><ellipse cx="58" cy="243" rx="6" ry="5" fill="#ffa347" opacity="0.6" filter="url(#hblur)"/><ellipse cx="90" cy="187" rx="8" ry="4" fill="#ffc285" opacity="0.6" filter="url(#hblur)"/><ellipse cx="104" cy="260" rx="10" ry="12" fill="#ffcc99" opacity="0.5" filter="url(#hblur)"/><ellipse cx="160" cy="275" rx="10" ry="8" fill="#ffcc99" opacity="0.5" filter="url(#hblur)"/><ellipse cx="40" cy="215" rx="10" ry="10" fill="#ffe0c2" opacity="0.5" filter="url(#hblur)"/><ellipse cx="165" cy="195" rx="10" ry="8" fill="#ffd6ad" opacity="0.5" filter="url(#hblur)"/><ellipse cx="195" cy="260" rx="8" ry="10" fill="#ffd6ad" opacity="0.5" filter="url(#hblur)"/><circle cx="191" cy="214.6" r="2.86" fill="url(#g_vd)"/><circle cx="149.8" cy="213.3" r="2.81" fill="url(#g_od)"/><circle cx="176" cy="218.6" r="2.24" fill="url(#g_od)"/><circle cx="185.8" cy="222.5" r="2.38" fill="url(#g_d)"/><circle cx="183.2" cy="224.4" r="2.43" fill="url(#g_o)"/><circle cx="190.4" cy="227.7" r="2.38" fill="url(#g_d)"/><circle cx="185.8" cy="233" r="3.52" fill="url(#g_vd)"/><circle cx="188.4" cy="234.3" r="2.24" fill="url(#g_od)"/><circle cx="176.6" cy="230.3" r="2.24" fill="url(#g_od)"/><circle cx="168.1" cy="231.6" r="2.24" fill="url(#g_od)"/><circle cx="169.5" cy="218.6" r="2.81" fill="url(#g_lo)"/><circle cx="179.3" cy="214" r="2.43" fill="url(#g_lo)"/><circle cx="187.1" cy="204.2" r="1.87" fill="url(#g_o)"/><circle cx="153.1" cy="233.6" r="1.87" fill="url(#g_o)"/><circle cx="168.8" cy="241.5" r="2.24" fill="url(#g_od)"/><circle cx="183.2" cy="238.2" r="2.43" fill="url(#g_o)"/><circle cx="193" cy="232.3" r="3.74" fill="url(#g_lo)"/><circle cx="86.9" cy="215" r="2.77" fill="url(#g_d)"/><circle cx="80.7" cy="216.6" r="2.24" fill="url(#g_o)"/><circle cx="89.4" cy="206.2" r="2.06" fill="url(#g_o)"/><circle cx="98" cy="182" r="2.06" fill="url(#g_od)"/><circle cx="107.8" cy="208.8" r="2.06" fill="url(#g_od)"/><circle cx="28" cy="225.2" r="2.06" fill="url(#g_od)"/><circle cx="84" cy="222" r="2.99" fill="url(#g_lo)"/><circle cx="90" cy="226" r="3.37" fill="url(#g_lo)"/><circle cx="86" cy="229" r="2.81" fill="url(#g_o)"/><circle cx="92" cy="231" r="2.43" fill="url(#g_o)"/><ellipse cx="0" cy="0" rx="6.06" ry="1.67" fill="url(#g_lo)" transform="translate(80.5,187.25) rotate(32.74)"/><ellipse cx="0" cy="0" rx="4.07" ry="1.55" fill="url(#g_lo)" transform="translate(92.75,191.5) rotate(40.6)"/><circle cx="54.8" cy="243.8" r="3.37" fill="url(#g_lo)"/><circle cx="59" cy="246.4" r="2.99" fill="url(#g_o)"/><ellipse cx="0" cy="0" rx="5.43" ry="1.67" fill="url(#g_o)" transform="translate(91.05,232.75) rotate(12.26)"/><circle cx="104.9" cy="232.6" r="2.06" fill="url(#g_o)"/><circle cx="73.8" cy="274.9" r="2.06" fill="url(#g_o)"/><circle cx="108.4" cy="272.3" r="2.62" fill="url(#g_o)"/><circle cx="98" cy="281.8" r="2.24" fill="url(#g_o)"/><circle cx="104.9" cy="259.4" r="2.81" fill="url(#g_lo)"/><circle cx="101.4" cy="245.5" r="2.81" fill="url(#g_lo)"/><circle cx="73.8" cy="264.5" r="2.81" fill="url(#g_lo)"/><circle cx="84.2" cy="239.5" r="2.81" fill="url(#g_lo)"/><circle cx="133.8" cy="212" r="2.43" fill="url(#g_o)"/><circle cx="130.6" cy="190" r="2.62" fill="url(#g_lo)"/><circle cx="151" cy="187" r="2.62" fill="url(#g_lo)"/><circle cx="107.2" cy="208.8" r="2.06" fill="url(#g_o)"/><circle cx="90" cy="205.7" r="1.87" fill="url(#g_o)"/><circle cx="93" cy="222.9" r="2.06" fill="url(#g_o)"/><circle cx="105.6" cy="232" r="2.06" fill="url(#g_o)"/><circle cx="58.8" cy="241.6" r="2.43" fill="url(#g_o)"/><ellipse cx="0" cy="0" rx="5.51" ry="1.78" fill="url(#g_o)" transform="translate(125,260.25) rotate(-30.26)"/><circle cx="133.8" cy="258.8" r="2.24" fill="url(#g_o)"/><circle cx="105.6" cy="271.3" r="2.24" fill="url(#g_o)"/><ellipse cx="0" cy="0" rx="5.39" ry="1.78" fill="url(#g_o)" transform="translate(133,259.5) rotate(-26.57)"/><circle cx="163.2" cy="283.4" r="2.43" fill="url(#g_od)"/><circle cx="150" cy="277.2" r="2.43" fill="url(#g_lo)"/><circle cx="120" cy="200" r="1.87" fill="url(#g_lo)"/><circle cx="140" cy="190" r="1.87" fill="url(#g_lo)"/><circle cx="115" cy="240" r="1.87" fill="url(#g_lo)"/><circle cx="70" cy="230" r="1.87" fill="url(#g_lo)"/><circle cx="45" cy="200" r="1.87" fill="url(#g_lo)"/><circle cx="65" cy="205" r="1.87" fill="url(#g_lo)"/><circle cx="140" cy="270" r="1.87" fill="url(#g_lo)"/><circle cx="175" cy="260" r="1.87" fill="url(#g_lo)"/><circle cx="200" cy="250" r="1.87" fill="url(#g_lo)"/><circle cx="160" cy="205" r="1.87" fill="url(#g_lo)"/><circle cx="120" cy="280" r="1.87" fill="url(#g_lo)"/></g>
</g>
<rect x="22.4" y="176" width="188.8" height="110.3" fill="none" stroke="#3a3a3a" stroke-width="0.9"/>
<path d="M18.6 286.3h3.8M211.2 286.3h3.8M20.6 282.63h1.8M211.2 282.63h1.8M20.6 278.96h1.8M211.2 278.96h1.8M20.6 275.29h1.8M211.2 275.29h1.8M18.6 271.62h3.8M211.2 271.62h3.8M20.6 267.95h1.8M211.2 267.95h1.8M20.6 264.28h1.8M211.2 264.28h1.8M20.6 260.61h1.8M211.2 260.61h1.8M18.6 256.95h3.8M211.2 256.95h3.8M20.6 253.28h1.8M211.2 253.28h1.8M20.6 249.61h1.8M211.2 249.61h1.8M20.6 245.94h1.8M211.2 245.94h1.8M18.6 242.27h3.8M211.2 242.27h3.8M20.6 238.6h1.8M211.2 238.6h1.8M20.6 234.93h1.8M211.2 234.93h1.8M20.6 231.26h1.8M211.2 231.26h1.8M18.6 227.59h3.8M211.2 227.59h3.8M20.6 223.92h1.8M211.2 223.92h1.8M20.6 220.25h1.8M211.2 220.25h1.8M20.6 216.58h1.8M211.2 216.58h1.8M18.6 212.91h3.8M211.2 212.91h3.8M20.6 209.24h1.8M211.2 209.24h1.8M20.6 205.57h1.8M211.2 205.57h1.8M20.6 201.91h1.8M211.2 201.91h1.8M18.6 198.24h3.8M211.2 198.24h3.8M20.6 194.57h1.8M211.2 194.57h1.8M20.6 190.9h1.8M211.2 190.9h1.8M20.6 187.23h1.8M211.2 187.23h1.8M18.6 183.56h3.8M211.2 183.56h3.8M20.6 179.89h1.8M211.2 179.89h1.8M20.6 176.22h1.8M211.2 176.22h1.8M22.4 286.3v3M22.4 173v3M29.04 286.3v1.4M29.04 174.6v1.4M35.68 286.3v1.4M35.68 174.6v1.4M42.32 286.3v1.4M42.32 174.6v1.4M48.96 286.3v1.4M48.96 174.6v1.4M55.6 286.3v3M55.6 173v3M62.25 286.3v1.4M62.25 174.6v1.4M68.89 286.3v1.4M68.89 174.6v1.4M75.53 286.3v1.4M75.53 174.6v1.4M82.17 286.3v1.4M82.17 174.6v1.4M88.81 286.3v3M88.81 173v3M95.45 286.3v1.4M95.45 174.6v1.4M102.09 286.3v1.4M102.09 174.6v1.4M108.73 286.3v1.4M108.73 174.6v1.4M115.37 286.3v1.4M115.37 174.6v1.4M122.01 286.3v3M122.01 173v3M128.65 286.3v1.4M128.65 174.6v1.4M135.29 286.3v1.4M135.29 174.6v1.4M141.94 286.3v1.4M141.94 174.6v1.4M148.58 286.3v1.4M148.58 174.6v1.4M155.22 286.3v3M155.22 173v3M161.86 286.3v1.4M161.86 174.6v1.4M168.5 286.3v1.4M168.5 174.6v1.4M175.14 286.3v1.4M175.14 174.6v1.4M181.78 286.3v1.4M181.78 174.6v1.4M188.42 286.3v3M188.42 173v3M195.06 286.3v1.4M195.06 174.6v1.4M201.7 286.3v1.4M201.7 174.6v1.4M208.34 286.3v1.4M208.34 174.6v1.4" stroke="#3a3a3a" stroke-width="0.7" fill="none"/>
<text x="16.6" y="288.7" text-anchor="end" class="tk" textLength="3.12" lengthAdjust="spacingAndGlyphs">0</text>
<text x="16.6" y="274.02" text-anchor="end" class="tk" textLength="9.36" lengthAdjust="spacingAndGlyphs">200</text>
<text x="16.6" y="259.35" text-anchor="end" class="tk" textLength="9.36" lengthAdjust="spacingAndGlyphs">400</text>
<text x="16.6" y="244.67" text-anchor="end" class="tk" textLength="9.36" lengthAdjust="spacingAndGlyphs">600</text>
<text x="16.6" y="229.99" text-anchor="end" class="tk" textLength="9.36" lengthAdjust="spacingAndGlyphs">800</text>
<text x="16.6" y="215.31" text-anchor="end" class="tk" textLength="12.48" lengthAdjust="spacingAndGlyphs">1000</text>
<text x="16.6" y="200.64" text-anchor="end" class="tk" textLength="12.48" lengthAdjust="spacingAndGlyphs">1200</text>
<text x="16.6" y="185.96" text-anchor="end" class="tk" textLength="12.48" lengthAdjust="spacingAndGlyphs">1400</text>
<text x="22.4" y="296.9" text-anchor="middle" class="tk" textLength="3.12" lengthAdjust="spacingAndGlyphs">0</text>
<text x="55.6" y="296.9" text-anchor="middle" class="tk" textLength="9.36" lengthAdjust="spacingAndGlyphs">500</text>
<text x="88.81" y="296.9" text-anchor="middle" class="tk" textLength="12.48" lengthAdjust="spacingAndGlyphs">1000</text>
<text x="122.01" y="296.9" text-anchor="middle" class="tk" textLength="12.48" lengthAdjust="spacingAndGlyphs">1500</text>
<text x="155.22" y="296.9" text-anchor="middle" class="tk" textLength="12.48" lengthAdjust="spacingAndGlyphs">2000</text>
<text x="188.42" y="296.9" text-anchor="middle" class="tk" textLength="12.48" lengthAdjust="spacingAndGlyphs">2500</text>
<rect x="252.2" y="175.9" width="9.8" height="110.4" fill="url(#cb)" stroke="#555" stroke-width="0.7"/>
<text x="250.8" y="286.8" text-anchor="end" class="cl" textLength="3.35" lengthAdjust="spacingAndGlyphs">0</text>
<text x="250.8" y="258" text-anchor="end" class="cl" textLength="10.05" lengthAdjust="spacingAndGlyphs">200</text>
<text x="250.8" y="227.3" text-anchor="end" class="cl" textLength="10.05" lengthAdjust="spacingAndGlyphs">400</text>
<text x="250.8" y="196.6" text-anchor="end" class="cl" textLength="10.05" lengthAdjust="spacingAndGlyphs">600</text>
<text x="254.8" y="299.9" text-anchor="middle" class="ppm">[ppm]</text>
<g clip-path="url(#clip_d)">
<rect x="299.9" y="176.2" width="189.2" height="110.2" fill="#fff"/>
<g filter="url(#pb_d)">
<polygon points="297.2,238.1 300.2,238.1 306.7,241.1 312.5,244.6 318.4,249.7 324.2,254.8 330,259.2 335.8,262.8 341.6,267.2 347.5,271.5 351.8,275.2 356.2,280.3 360.5,285.4 361.2,286.4 361.2,292.4 466.4,292.4 466.4,286.4 462.7,282.3 453.6,275 444.5,267.7 435.5,261.4 426.4,255 417.3,249.5 408.2,242.3 399,235 390,225.9 381.8,215 374.5,210.5 365.5,203.3 356.4,196.9 347.3,192.4 338.2,185.1 328.2,176.1 328.2,173.1 297.2,173.1" fill="#ffa347"/>
<polygon points="338.2,173.1 338.2,176.1 347.3,181.5 356.4,188.7 365.5,194.2 374.5,197.8 380,205 389,212.4 399,222.3 408.2,229.5 417.3,236.8 426.4,244 437.3,251.4 446.4,258.6 457.3,266 466.4,273.2 475.5,280.5 481,286.4 481,292.4 495.2,292.4 495.2,200.6 489.2,200.6 484,197.6 477.6,193 471,188.4 464.5,183.8 458,179.2 451.4,176.1 451.4,173.1" fill="#ffa347"/>
<rect x="296.2" y="172.1" width="197" height="118.3" filter="url(#tx_dl0)" clip-path="url(#tl_d)"/>
<rect x="296.2" y="172.1" width="197" height="118.3" filter="url(#tx_dl1)" clip-path="url(#tl_d)"/>
<rect x="296.2" y="172.1" width="197" height="118.3" filter="url(#tx_du0)" clip-path="url(#tu_d)"/>
<rect x="296.2" y="172.1" width="197" height="118.3" filter="url(#tx_du1)" clip-path="url(#tu_d)"/>
<ellipse cx="0" cy="0" rx="9" ry="2.2" fill="#fff" opacity="0.85" transform="translate(477.5,228) rotate(55)"/>
</g>
<g filter="url(#sblur)"><circle cx="440.3" cy="191.7" r="2.64" fill="url(#g_vd)"/><circle cx="433" cy="195.6" r="2.06" fill="url(#g_o)"/><circle cx="461.2" cy="213.3" r="1.87" fill="url(#g_o)"/><circle cx="315.5" cy="246.1" r="1.78" fill="url(#g_d)"/><circle cx="330.7" cy="259.2" r="1.5" fill="url(#g_od)"/><circle cx="335" cy="262" r="1.5" fill="url(#g_od)"/><circle cx="347.5" cy="271.5" r="1.5" fill="url(#g_od)"/><circle cx="352.5" cy="275.2" r="1.5" fill="url(#g_od)"/><circle cx="356.4" cy="197" r="1.68" fill="url(#g_od)"/><circle cx="365.5" cy="205.5" r="1.5" fill="url(#g_od)"/><circle cx="384" cy="212" r="1.87" fill="url(#g_od)"/></g>
</g>
<rect x="299.9" y="176.2" width="189.2" height="110.2" fill="none" stroke="#3a3a3a" stroke-width="0.9"/>
<path d="M296.1 286.4h3.8M489.1 286.4h3.8M298.1 282.73h1.8M489.1 282.73h1.8M298.1 279.07h1.8M489.1 279.07h1.8M298.1 275.4h1.8M489.1 275.4h1.8M296.1 271.74h3.8M489.1 271.74h3.8M298.1 268.07h1.8M489.1 268.07h1.8M298.1 264.4h1.8M489.1 264.4h1.8M298.1 260.74h1.8M489.1 260.74h1.8M296.1 257.07h3.8M489.1 257.07h3.8M298.1 253.41h1.8M489.1 253.41h1.8M298.1 249.74h1.8M489.1 249.74h1.8M298.1 246.07h1.8M489.1 246.07h1.8M296.1 242.41h3.8M489.1 242.41h3.8M298.1 238.74h1.8M489.1 238.74h1.8M298.1 235.08h1.8M489.1 235.08h1.8M298.1 231.41h1.8M489.1 231.41h1.8M296.1 227.74h3.8M489.1 227.74h3.8M298.1 224.08h1.8M489.1 224.08h1.8M298.1 220.41h1.8M489.1 220.41h1.8M298.1 216.75h1.8M489.1 216.75h1.8M296.1 213.08h3.8M489.1 213.08h3.8M298.1 209.41h1.8M489.1 209.41h1.8M298.1 205.75h1.8M489.1 205.75h1.8M298.1 202.08h1.8M489.1 202.08h1.8M296.1 198.42h3.8M489.1 198.42h3.8M298.1 194.75h1.8M489.1 194.75h1.8M298.1 191.08h1.8M489.1 191.08h1.8M298.1 187.42h1.8M489.1 187.42h1.8M296.1 183.75h3.8M489.1 183.75h3.8M298.1 180.09h1.8M489.1 180.09h1.8M298.1 176.42h1.8M489.1 176.42h1.8M299.9 286.4v3M299.9 173.2v3M306.55 286.4v1.4M306.55 174.8v1.4M313.21 286.4v1.4M313.21 174.8v1.4M319.86 286.4v1.4M319.86 174.8v1.4M326.52 286.4v1.4M326.52 174.8v1.4M333.17 286.4v3M333.17 173.2v3M339.83 286.4v1.4M339.83 174.8v1.4M346.48 286.4v1.4M346.48 174.8v1.4M353.14 286.4v1.4M353.14 174.8v1.4M359.79 286.4v1.4M359.79 174.8v1.4M366.45 286.4v3M366.45 173.2v3M373.1 286.4v1.4M373.1 174.8v1.4M379.76 286.4v1.4M379.76 174.8v1.4M386.41 286.4v1.4M386.41 174.8v1.4M393.07 286.4v1.4M393.07 174.8v1.4M399.72 286.4v3M399.72 173.2v3M406.38 286.4v1.4M406.38 174.8v1.4M413.03 286.4v1.4M413.03 174.8v1.4M419.69 286.4v1.4M419.69 174.8v1.4M426.34 286.4v1.4M426.34 174.8v1.4M433 286.4v3M433 173.2v3M439.65 286.4v1.4M439.65 174.8v1.4M446.31 286.4v1.4M446.31 174.8v1.4M452.96 286.4v1.4M452.96 174.8v1.4M459.62 286.4v1.4M459.62 174.8v1.4M466.27 286.4v3M466.27 173.2v3M472.93 286.4v1.4M472.93 174.8v1.4M479.58 286.4v1.4M479.58 174.8v1.4M486.24 286.4v1.4M486.24 174.8v1.4" stroke="#3a3a3a" stroke-width="0.7" fill="none"/>
<text x="294.1" y="288.8" text-anchor="end" class="tk" textLength="3.12" lengthAdjust="spacingAndGlyphs">0</text>
<text x="294.1" y="274.14" text-anchor="end" class="tk" textLength="9.36" lengthAdjust="spacingAndGlyphs">200</text>
<text x="294.1" y="259.47" text-anchor="end" class="tk" textLength="9.36" lengthAdjust="spacingAndGlyphs">400</text>
<text x="294.1" y="244.81" text-anchor="end" class="tk" textLength="9.36" lengthAdjust="spacingAndGlyphs">600</text>
<text x="294.1" y="230.14" text-anchor="end" class="tk" textLength="9.36" lengthAdjust="spacingAndGlyphs">800</text>
<text x="294.1" y="215.48" text-anchor="end" class="tk" textLength="12.48" lengthAdjust="spacingAndGlyphs">1000</text>
<text x="294.1" y="200.82" text-anchor="end" class="tk" textLength="12.48" lengthAdjust="spacingAndGlyphs">1200</text>
<text x="294.1" y="186.15" text-anchor="end" class="tk" textLength="12.48" lengthAdjust="spacingAndGlyphs">1400</text>
<text x="299.9" y="297" text-anchor="middle" class="tk" textLength="3.12" lengthAdjust="spacingAndGlyphs">0</text>
<text x="333.17" y="297" text-anchor="middle" class="tk" textLength="9.36" lengthAdjust="spacingAndGlyphs">500</text>
<text x="366.45" y="297" text-anchor="middle" class="tk" textLength="12.48" lengthAdjust="spacingAndGlyphs">1000</text>
<text x="399.72" y="297" text-anchor="middle" class="tk" textLength="12.48" lengthAdjust="spacingAndGlyphs">1500</text>
<text x="433" y="297" text-anchor="middle" class="tk" textLength="12.48" lengthAdjust="spacingAndGlyphs">2000</text>
<text x="466.27" y="297" text-anchor="middle" class="tk" textLength="12.48" lengthAdjust="spacingAndGlyphs">2500</text>
<rect x="530.7" y="176.2" width="9.3" height="110.1" fill="url(#cb)" stroke="#555" stroke-width="0.7"/>
<text x="529.3" y="268.1" text-anchor="end" class="cl" textLength="13.4" lengthAdjust="spacingAndGlyphs">2000</text>
<text x="529.3" y="246.8" text-anchor="end" class="cl" textLength="13.4" lengthAdjust="spacingAndGlyphs">4000</text>
<text x="529.3" y="225.4" text-anchor="end" class="cl" textLength="13.4" lengthAdjust="spacingAndGlyphs">6000</text>
<text x="529.3" y="204.6" text-anchor="end" class="cl" textLength="13.4" lengthAdjust="spacingAndGlyphs">8000</text>
<text x="529.3" y="182.8" text-anchor="end" class="cl" textLength="16.75" lengthAdjust="spacingAndGlyphs">10000</text>
<text x="533.05" y="299.9" text-anchor="middle" class="ppm">[ppm]</text>
<g clip-path="url(#clip_e)">
<rect x="23" y="349" width="189.4" height="110.4" fill="#fff"/>
<g filter="url(#pb_e)">
<polygon points="19.6,410 22.6,410 32.4,416 42.7,423 53,431.6 63.5,440.3 72,449 79,457.5 80.6,459.3 80.6,465.3 194.17,465.3 194.17,465.68 187.91,461.08 163.16,440.14 138.51,419.45 110.5,398.55 85.96,377.81 68.95,365.01 53.29,351.37 53.29,346 19.6,346" fill="#ff6b00"/>
<polygon points="60.91,346 60.91,342.63 76.25,355.99 93.24,368.79 117.7,389.45 145.69,410.35 170.64,431.26 195.29,452.12 201.03,456.32 201.03,465.3 217.6,465.3 217.6,370.5 211.6,370.5 211.2,370 204.3,364.7 193.8,357.7 183.3,352.5 172.8,349 172.8,346" fill="#ff9933"/>
<rect x="18.6" y="345" width="197" height="118.3" filter="url(#tx_el0)" clip-path="url(#tl_e)"/>
<rect x="18.6" y="345" width="197" height="118.3" filter="url(#tx_el1)" clip-path="url(#tl_e)"/>
<rect x="18.6" y="345" width="197" height="118.3" filter="url(#tx_eu0)" clip-path="url(#tu_e)"/>
<rect x="18.6" y="345" width="197" height="118.3" filter="url(#tx_eu1)" clip-path="url(#tu_e)"/>
<g clip-path="url(#tis_e)"><g filter="url(#rblur)"><ellipse cx="30" cy="372" rx="9" ry="24" fill="#bf0000" opacity="0.75"/><ellipse cx="65" cy="385" rx="16" ry="12" fill="#ffc285" opacity="0.7"/><ellipse cx="84" cy="413" rx="8" ry="10" fill="#730000" opacity="0.95"/><ellipse cx="72" cy="412" rx="5" ry="4" fill="#ac0000" opacity="0.7"/><ellipse cx="143" cy="433" rx="12" ry="7" fill="#ac0000" opacity="0.8"/><ellipse cx="110" cy="430" rx="10" ry="8" fill="#ff6600" opacity="0.4"/><ellipse cx="100" cy="448" rx="14" ry="8" fill="#ffb266" opacity="0.5"/><ellipse cx="50" cy="425" rx="8" ry="6" fill="#e53300" opacity="0.5"/><ellipse cx="200" cy="378" rx="9" ry="16" fill="#e53300" opacity="0.7"/><ellipse cx="180" cy="360" rx="10" ry="6" fill="#f94d00" opacity="0.5"/><ellipse cx="140" cy="395" rx="15" ry="8" fill="#ffe5cc" opacity="0.6"/><ellipse cx="170" cy="420" rx="15" ry="9" fill="#ffe0c2" opacity="0.6"/><ellipse cx="115" cy="365" rx="12" ry="8" fill="#ffe0c2" opacity="0.5"/><ellipse cx="150" cy="368" rx="12" ry="8" fill="#ff6600" opacity="0.5"/></g></g>
<ellipse cx="0" cy="0" rx="12" ry="4.5" fill="#fff" opacity="0.75" filter="url(#b15)" transform="translate(201,400) rotate(42)"/>
<polyline points="57.1,347 72.6,360.5 89.6,373.3 114.1,394 142.1,414.9 166.9,435.7 191.6,456.6 197.6,461" fill="none" stroke="#fff" stroke-width="19" stroke-linejoin="round" opacity="0.3" filter="url(#hl_e)"/>
</g>
<g filter="url(#sblur)"><circle cx="87.6" cy="407.5" r="2.25" fill="url(#n_vd)"/><circle cx="85.9" cy="417.8" r="2.55" fill="url(#n_vd)"/><circle cx="70.4" cy="412.6" r="1.95" fill="url(#n_d)"/><circle cx="139.7" cy="434.5" r="2.25" fill="url(#n_vd)"/><circle cx="144.9" cy="431.9" r="1.95" fill="url(#n_d)"/><circle cx="150.2" cy="438.9" r="1.95" fill="url(#n_d)"/><circle cx="134.5" cy="426.7" r="1.8" fill="url(#n_d)"/><circle cx="28.9" cy="352.5" r="1.8" fill="url(#n_d)"/><circle cx="32.4" cy="366.3" r="1.8" fill="url(#n_d)"/><circle cx="27.2" cy="383.5" r="1.8" fill="url(#n_d)"/><circle cx="39.3" cy="374.9" r="1.65" fill="url(#n_od)"/><circle cx="87.6" cy="397.4" r="1.8" fill="url(#n_od)"/><circle cx="94.5" cy="400.8" r="1.65" fill="url(#n_od)"/><circle cx="195.5" cy="437.2" r="1.8" fill="url(#n_od)"/><circle cx="190.3" cy="371.7" r="1.8" fill="url(#n_od)"/><circle cx="199" cy="380.4" r="1.8" fill="url(#n_od)"/><circle cx="148.4" cy="375.2" r="1.65" fill="url(#n_o)"/><circle cx="155.4" cy="380.4" r="1.65" fill="url(#n_o)"/><circle cx="204.3" cy="414.5" r="1.65" fill="url(#n_od)"/></g>
</g>
<rect x="23" y="349" width="189.4" height="110.4" fill="none" stroke="#3a3a3a" stroke-width="0.9"/>
<path d="M19.2 459.4h3.8M212.4 459.4h3.8M21.2 455.73h1.8M212.4 455.73h1.8M21.2 452.05h1.8M212.4 452.05h1.8M21.2 448.38h1.8M212.4 448.38h1.8M19.2 444.71h3.8M212.4 444.71h3.8M21.2 441.04h1.8M212.4 441.04h1.8M21.2 437.36h1.8M212.4 437.36h1.8M21.2 433.69h1.8M212.4 433.69h1.8M19.2 430.02h3.8M212.4 430.02h3.8M21.2 426.35h1.8M212.4 426.35h1.8M21.2 422.67h1.8M212.4 422.67h1.8M21.2 419h1.8M212.4 419h1.8M19.2 415.33h3.8M212.4 415.33h3.8M21.2 411.66h1.8M212.4 411.66h1.8M21.2 407.98h1.8M212.4 407.98h1.8M21.2 404.31h1.8M212.4 404.31h1.8M19.2 400.64h3.8M212.4 400.64h3.8M21.2 396.96h1.8M212.4 396.96h1.8M21.2 393.29h1.8M212.4 393.29h1.8M21.2 389.62h1.8M212.4 389.62h1.8M19.2 385.95h3.8M212.4 385.95h3.8M21.2 382.27h1.8M212.4 382.27h1.8M21.2 378.6h1.8M212.4 378.6h1.8M21.2 374.93h1.8M212.4 374.93h1.8M19.2 371.26h3.8M212.4 371.26h3.8M21.2 367.58h1.8M212.4 367.58h1.8M21.2 363.91h1.8M212.4 363.91h1.8M21.2 360.24h1.8M212.4 360.24h1.8M19.2 356.57h3.8M212.4 356.57h3.8M21.2 352.89h1.8M212.4 352.89h1.8M21.2 349.22h1.8M212.4 349.22h1.8M23 459.4v3M23 346v3M29.66 459.4v1.4M29.66 347.6v1.4M36.32 459.4v1.4M36.32 347.6v1.4M42.99 459.4v1.4M42.99 347.6v1.4M49.65 459.4v1.4M49.65 347.6v1.4M56.31 459.4v3M56.31 346v3M62.97 459.4v1.4M62.97 347.6v1.4M69.63 459.4v1.4M69.63 347.6v1.4M76.3 459.4v1.4M76.3 347.6v1.4M82.96 459.4v1.4M82.96 347.6v1.4M89.62 459.4v3M89.62 346v3M96.28 459.4v1.4M96.28 347.6v1.4M102.94 459.4v1.4M102.94 347.6v1.4M109.61 459.4v1.4M109.61 347.6v1.4M116.27 459.4v1.4M116.27 347.6v1.4M122.93 459.4v3M122.93 346v3M129.59 459.4v1.4M129.59 347.6v1.4M136.25 459.4v1.4M136.25 347.6v1.4M142.92 459.4v1.4M142.92 347.6v1.4M149.58 459.4v1.4M149.58 347.6v1.4M156.24 459.4v3M156.24 346v3M162.9 459.4v1.4M162.9 347.6v1.4M169.56 459.4v1.4M169.56 347.6v1.4M176.23 459.4v1.4M176.23 347.6v1.4M182.89 459.4v1.4M182.89 347.6v1.4M189.55 459.4v3M189.55 346v3M196.21 459.4v1.4M196.21 347.6v1.4M202.87 459.4v1.4M202.87 347.6v1.4M209.54 459.4v1.4M209.54 347.6v1.4" stroke="#3a3a3a" stroke-width="0.7" fill="none"/>
<text x="17.2" y="461.8" text-anchor="end" class="tk" textLength="3.12" lengthAdjust="spacingAndGlyphs">0</text>
<text x="17.2" y="447.11" text-anchor="end" class="tk" textLength="9.36" lengthAdjust="spacingAndGlyphs">200</text>
<text x="17.2" y="432.42" text-anchor="end" class="tk" textLength="9.36" lengthAdjust="spacingAndGlyphs">400</text>
<text x="17.2" y="417.73" text-anchor="end" class="tk" textLength="9.36" lengthAdjust="spacingAndGlyphs">600</text>
<text x="17.2" y="403.04" text-anchor="end" class="tk" textLength="9.36" lengthAdjust="spacingAndGlyphs">800</text>
<text x="17.2" y="388.35" text-anchor="end" class="tk" textLength="12.48" lengthAdjust="spacingAndGlyphs">1000</text>
<text x="17.2" y="373.66" text-anchor="end" class="tk" textLength="12.48" lengthAdjust="spacingAndGlyphs">1200</text>
<text x="17.2" y="358.97" text-anchor="end" class="tk" textLength="12.48" lengthAdjust="spacingAndGlyphs">1400</text>
<text x="23" y="470" text-anchor="middle" class="tk" textLength="3.12" lengthAdjust="spacingAndGlyphs">0</text>
<text x="56.31" y="470" text-anchor="middle" class="tk" textLength="9.36" lengthAdjust="spacingAndGlyphs">500</text>
<text x="89.62" y="470" text-anchor="middle" class="tk" textLength="12.48" lengthAdjust="spacingAndGlyphs">1000</text>
<text x="122.93" y="470" text-anchor="middle" class="tk" textLength="12.48" lengthAdjust="spacingAndGlyphs">1500</text>
<text x="156.24" y="470" text-anchor="middle" class="tk" textLength="12.48" lengthAdjust="spacingAndGlyphs">2000</text>
<text x="189.55" y="470" text-anchor="middle" class="tk" textLength="12.48" lengthAdjust="spacingAndGlyphs">2500</text>
<rect x="253.3" y="349" width="9.4" height="110.2" fill="url(#cb)" stroke="#555" stroke-width="0.7"/>
<text x="251.9" y="459.6" text-anchor="end" class="cl" textLength="3.35" lengthAdjust="spacingAndGlyphs">0</text>
<text x="251.9" y="447.9" text-anchor="end" class="cl" textLength="6.7" lengthAdjust="spacingAndGlyphs">20</text>
<text x="251.9" y="433.8" text-anchor="end" class="cl" textLength="6.7" lengthAdjust="spacingAndGlyphs">40</text>
<text x="251.9" y="419.6" text-anchor="end" class="cl" textLength="6.7" lengthAdjust="spacingAndGlyphs">60</text>
<text x="251.9" y="405.8" text-anchor="end" class="cl" textLength="6.7" lengthAdjust="spacingAndGlyphs">80</text>
<text x="251.9" y="391.6" text-anchor="end" class="cl" textLength="10.05" lengthAdjust="spacingAndGlyphs">100</text>
<text x="251.9" y="377.3" text-anchor="end" class="cl" textLength="10.05" lengthAdjust="spacingAndGlyphs">120</text>
<text x="251.9" y="363.6" text-anchor="end" class="cl" textLength="10.05" lengthAdjust="spacingAndGlyphs">140</text>
<text x="255.7" y="472.8" text-anchor="middle" class="ppm">[ppm]</text>
<g clip-path="url(#clip_f)">
<rect x="302.4" y="349.1" width="188.9" height="110.3" fill="#fff"/>
<g filter="url(#pb_f)">
<polygon points="297.2,414.7 300.2,414.7 313.8,423.4 327.7,432 345,442.4 362.3,452.8 372.6,459.3 372.6,465.3 472.56,465.3 472.56,463.77 466.95,459.83 446.19,446.19 421.76,428.62 400.68,410.38 392.19,401.29 384.06,393.16 377.64,386.83 369.68,380.35 359.9,372.25 348.19,363.89 335.77,350.07 335.77,346 297.2,346" fill="#ff9933"/>
<polygon points="342.63,346 342.63,343.93 354.41,357.11 365.5,364.95 375.52,373.25 383.76,379.97 390.54,386.64 398.81,394.91 406.92,403.62 427.44,421.38 451.41,438.61 472.05,452.17 477.84,456.23 477.84,465.3 495.2,465.3 495.2,369.8 489.2,369.8 478.2,361 465.2,354 452,349 452,346" fill="#ff9933"/>
<rect x="296.2" y="345" width="197" height="118.3" filter="url(#tx_fl0)" clip-path="url(#tl_f)"/>
<rect x="296.2" y="345" width="197" height="118.3" filter="url(#tx_fl1)" clip-path="url(#tl_f)"/>
<rect x="296.2" y="345" width="197" height="118.3" filter="url(#tx_fu0)" clip-path="url(#tu_f)"/>
<rect x="296.2" y="345" width="197" height="118.3" filter="url(#tx_fu1)" clip-path="url(#tu_f)"/>
<g clip-path="url(#tis_f)"><g filter="url(#rblur)"><ellipse cx="318" cy="372" rx="16" ry="18" fill="#ffebd6" opacity="0.45"/><ellipse cx="350" cy="445" rx="16" ry="8" fill="#ffe5cc" opacity="0.4"/><ellipse cx="462" cy="405" rx="18" ry="25" fill="#ff6600" opacity="0.35"/><ellipse cx="425" cy="365" rx="15" ry="8" fill="#ffe0c2" opacity="0.35"/><ellipse cx="395" cy="440" rx="12" ry="8" fill="#ff6600" opacity="0.3"/></g></g>
<polyline points="339.2,347 351.3,360.5 362.7,368.6 372.6,376.8 380.7,383.4 387.3,389.9 395.5,398.1 403.8,407 424.6,425 448.8,442.4 469.5,456 475.2,460" fill="none" stroke="#fff" stroke-width="16" stroke-linejoin="round" opacity="0.4" filter="url(#hl_f)"/>
</g>
<g filter="url(#sblur)"><circle cx="410.7" cy="371.5" r="6.16" fill="url(#g_vd)"/><circle cx="336.3" cy="402.6" r="5.35" fill="url(#g_d)"/><circle cx="313.8" cy="411.3" r="5.15" fill="url(#g_d)"/><circle cx="346.7" cy="378.4" r="4.49" fill="url(#g_od)"/><circle cx="436.7" cy="395.7" r="4.95" fill="url(#g_d)"/><circle cx="450.5" cy="402.6" r="4.55" fill="url(#g_d)"/><circle cx="431.5" cy="416.5" r="5.74" fill="url(#g_d)"/><circle cx="459.2" cy="425" r="6.82" fill="url(#g_vd)"/><circle cx="402" cy="409.5" r="2.97" fill="url(#g_d)"/><circle cx="469.5" cy="440.7" r="2.99" fill="url(#g_od)"/><circle cx="386.5" cy="397.5" r="2.99" fill="url(#g_od)"/><circle cx="331" cy="401" r="2.99" fill="url(#g_od)"/><circle cx="446.8" cy="442" r="2.06" fill="url(#g_od)"/><ellipse cx="0" cy="0" rx="4.54" ry="2.02" fill="url(#g_d)" transform="translate(437,398) rotate(26.57)"/><ellipse cx="0" cy="0" rx="5.09" ry="2.27" fill="url(#g_d)" transform="translate(431,417.5) rotate(36.87)"/></g>
</g>
<rect x="302.4" y="349.1" width="188.9" height="110.3" fill="none" stroke="#3a3a3a" stroke-width="0.9"/>
<path d="M298.6 459.4h3.8M491.3 459.4h3.8M300.6 455.73h1.8M491.3 455.73h1.8M300.6 452.06h1.8M491.3 452.06h1.8M300.6 448.39h1.8M491.3 448.39h1.8M298.6 444.72h3.8M491.3 444.72h3.8M300.6 441.05h1.8M491.3 441.05h1.8M300.6 437.38h1.8M491.3 437.38h1.8M300.6 433.71h1.8M491.3 433.71h1.8M298.6 430.05h3.8M491.3 430.05h3.8M300.6 426.38h1.8M491.3 426.38h1.8M300.6 422.71h1.8M491.3 422.71h1.8M300.6 419.04h1.8M491.3 419.04h1.8M298.6 415.37h3.8M491.3 415.37h3.8M300.6 411.7h1.8M491.3 411.7h1.8M300.6 408.03h1.8M491.3 408.03h1.8M300.6 404.36h1.8M491.3 404.36h1.8M298.6 400.69h3.8M491.3 400.69h3.8M300.6 397.02h1.8M491.3 397.02h1.8M300.6 393.35h1.8M491.3 393.35h1.8M300.6 389.68h1.8M491.3 389.68h1.8M298.6 386.01h3.8M491.3 386.01h3.8M300.6 382.34h1.8M491.3 382.34h1.8M300.6 378.67h1.8M491.3 378.67h1.8M300.6 375.01h1.8M491.3 375.01h1.8M298.6 371.34h3.8M491.3 371.34h3.8M300.6 367.67h1.8M491.3 367.67h1.8M300.6 364h1.8M491.3 364h1.8M300.6 360.33h1.8M491.3 360.33h1.8M298.6 356.66h3.8M491.3 356.66h3.8M300.6 352.99h1.8M491.3 352.99h1.8M300.6 349.32h1.8M491.3 349.32h1.8M302.4 459.4v3M302.4 346.1v3M309.04 459.4v1.4M309.04 347.7v1.4M315.69 459.4v1.4M315.69 347.7v1.4M322.33 459.4v1.4M322.33 347.7v1.4M328.98 459.4v1.4M328.98 347.7v1.4M335.62 459.4v3M335.62 346.1v3M342.27 459.4v1.4M342.27 347.7v1.4M348.91 459.4v1.4M348.91 347.7v1.4M355.56 459.4v1.4M355.56 347.7v1.4M362.2 459.4v1.4M362.2 347.7v1.4M368.84 459.4v3M368.84 346.1v3M375.49 459.4v1.4M375.49 347.7v1.4M382.13 459.4v1.4M382.13 347.7v1.4M388.78 459.4v1.4M388.78 347.7v1.4M395.42 459.4v1.4M395.42 347.7v1.4M402.07 459.4v3M402.07 346.1v3M408.71 459.4v1.4M408.71 347.7v1.4M415.35 459.4v1.4M415.35 347.7v1.4M422 459.4v1.4M422 347.7v1.4M428.64 459.4v1.4M428.64 347.7v1.4M435.29 459.4v3M435.29 346.1v3M441.93 459.4v1.4M441.93 347.7v1.4M448.58 459.4v1.4M448.58 347.7v1.4M455.22 459.4v1.4M455.22 347.7v1.4M461.87 459.4v1.4M461.87 347.7v1.4M468.51 459.4v3M468.51 346.1v3M475.15 459.4v1.4M475.15 347.7v1.4M481.8 459.4v1.4M481.8 347.7v1.4M488.44 459.4v1.4M488.44 347.7v1.4" stroke="#3a3a3a" stroke-width="0.7" fill="none"/>
<text x="296.6" y="461.8" text-anchor="end" class="tk" textLength="3.12" lengthAdjust="spacingAndGlyphs">0</text>
<text x="296.6" y="447.12" text-anchor="end" class="tk" textLength="9.36" lengthAdjust="spacingAndGlyphs">200</text>
<text x="296.6" y="432.45" text-anchor="end" class="tk" textLength="9.36" lengthAdjust="spacingAndGlyphs">400</text>
<text x="296.6" y="417.77" text-anchor="end" class="tk" textLength="9.36" lengthAdjust="spacingAndGlyphs">600</text>
<text x="296.6" y="403.09" text-anchor="end" class="tk" textLength="9.36" lengthAdjust="spacingAndGlyphs">800</text>
<text x="296.6" y="388.41" text-anchor="end" class="tk" textLength="12.48" lengthAdjust="spacingAndGlyphs">1000</text>
<text x="296.6" y="373.74" text-anchor="end" class="tk" textLength="12.48" lengthAdjust="spacingAndGlyphs">1200</text>
<text x="296.6" y="359.06" text-anchor="end" class="tk" textLength="12.48" lengthAdjust="spacingAndGlyphs">1400</text>
<text x="302.4" y="470" text-anchor="middle" class="tk" textLength="3.12" lengthAdjust="spacingAndGlyphs">0</text>
<text x="335.62" y="470" text-anchor="middle" class="tk" textLength="9.36" lengthAdjust="spacingAndGlyphs">500</text>
<text x="368.84" y="470" text-anchor="middle" class="tk" textLength="12.48" lengthAdjust="spacingAndGlyphs">1000</text>
<text x="402.07" y="470" text-anchor="middle" class="tk" textLength="12.48" lengthAdjust="spacingAndGlyphs">1500</text>
<text x="435.29" y="470" text-anchor="middle" class="tk" textLength="12.48" lengthAdjust="spacingAndGlyphs">2000</text>
<text x="468.51" y="470" text-anchor="middle" class="tk" textLength="12.48" lengthAdjust="spacingAndGlyphs">2500</text>
<rect x="532.7" y="349" width="9.6" height="110.2" fill="url(#cb)" stroke="#555" stroke-width="0.7"/>
<text x="531.3" y="459.6" text-anchor="end" class="cl" textLength="3.35" lengthAdjust="spacingAndGlyphs">0</text>
<text x="531.3" y="447.6" text-anchor="end" class="cl" textLength="3.35" lengthAdjust="spacingAndGlyphs">2</text>
<text x="531.3" y="433.8" text-anchor="end" class="cl" textLength="3.35" lengthAdjust="spacingAndGlyphs">4</text>
<text x="531.3" y="419.6" text-anchor="end" class="cl" textLength="3.35" lengthAdjust="spacingAndGlyphs">6</text>
<text x="531.3" y="405.5" text-anchor="end" class="cl" textLength="3.35" lengthAdjust="spacingAndGlyphs">8</text>
<text x="531.3" y="391.1" text-anchor="end" class="cl" textLength="6.7" lengthAdjust="spacingAndGlyphs">10</text>
<text x="531.3" y="377" text-anchor="end" class="cl" textLength="6.7" lengthAdjust="spacingAndGlyphs">12</text>
<text x="531.3" y="363.1" text-anchor="end" class="cl" textLength="6.7" lengthAdjust="spacingAndGlyphs">14</text>
<text x="535.2" y="472.8" text-anchor="middle" class="ppm">[ppm]</text>
<text x="0" y="0" class="el" transform="translate(302,117) scale(0.9,1)">Gd</text>
<text x="0" y="0" class="el" transform="translate(24.1,285) scale(0.9,1)">Fe</text>
<text x="0" y="0" class="el" transform="translate(301.6,285.1) scale(0.9,1)">Ca</text>
<text x="0" y="0" class="el" transform="translate(24.7,458.1) scale(0.9,1)">Zn</text>
<text x="0" y="0" class="el" transform="translate(304.1,458.1) scale(0.9,1)">Br</text>
<text x="15.6" y="154.6" class="lt">a</text>
<text x="275" y="155" class="lt">b</text>
<text x="13.6" y="327" class="lt">c</text>
<text x="292.6" y="327" class="lt">d</text>
<text x="25.8" y="520.6" class="lt">e</text>
<text x="314.6" y="521.3" class="lt">f</text>
<text x="117.6" y="499.2" class="um">µm</text>
<text x="394.2" y="499.2" class="um">µm</text>
<text transform="translate(273.3,72.8) rotate(-90)" class="um">µm</text>
</svg></body></html>
